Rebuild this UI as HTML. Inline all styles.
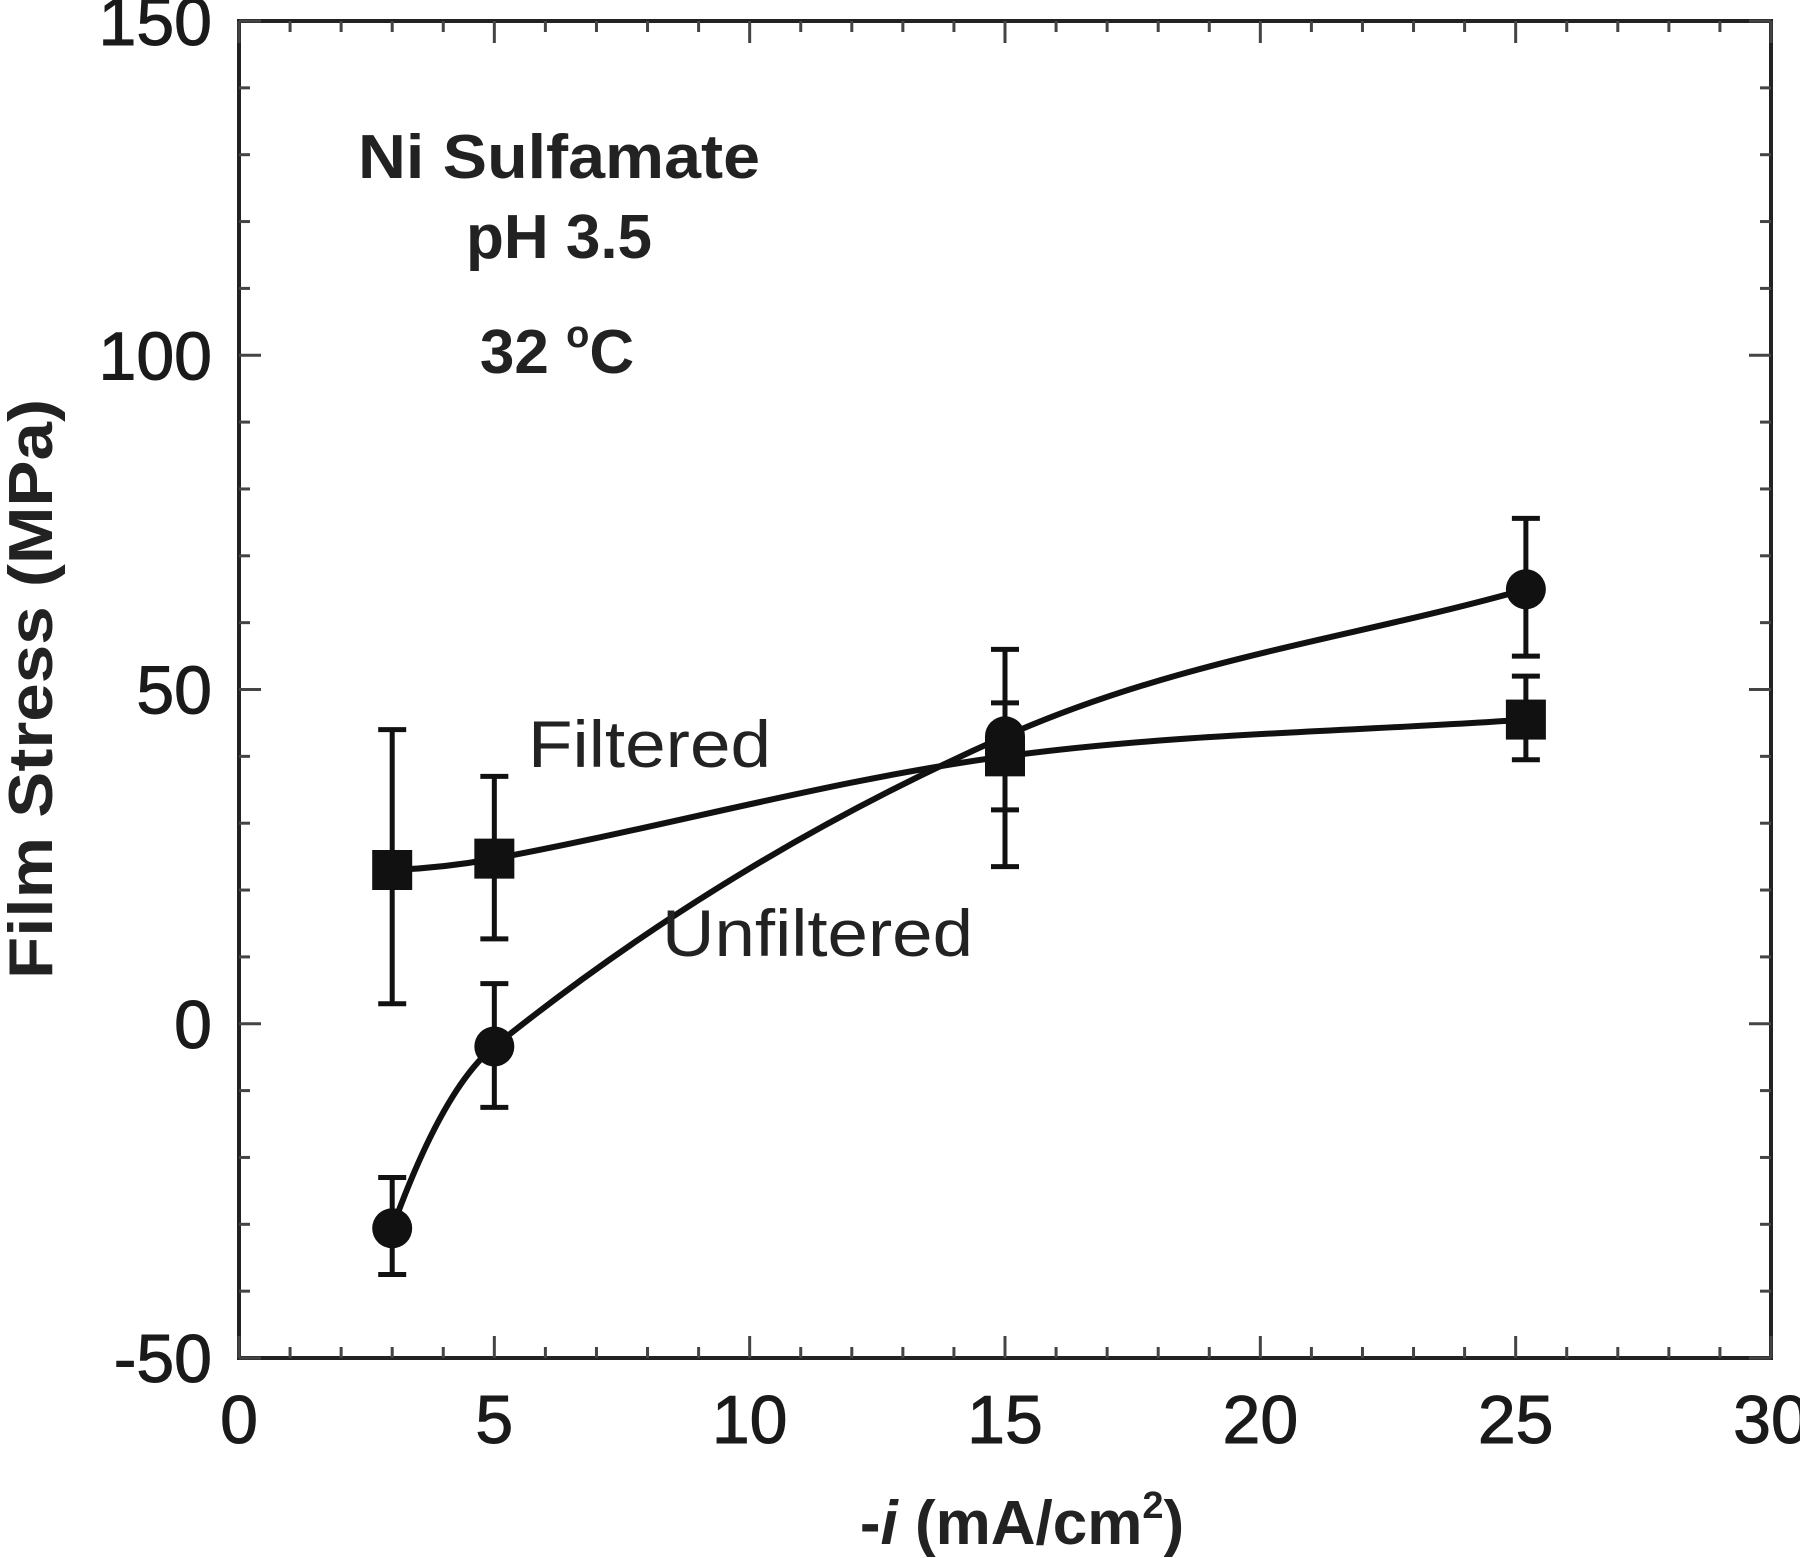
<!DOCTYPE html>
<html><head><meta charset="utf-8"><style>
html,body{margin:0;padding:0;background:#fff;}
svg{display:block;font-family:"Liberation Sans",Arial,sans-serif;}
</style></head><body>
<svg id="chart" width="1800" height="1558" viewBox="0 0 1800 1558">
<rect x="239" y="21" width="1532" height="1337" fill="none" stroke="#222" stroke-width="4"/>
<g id="ticks"></g>
<g id="labels"></g>
<g id="series"></g>
<text x="559" y="178" font-size="62" font-weight="bold" text-anchor="middle" fill="#222" textLength="402" lengthAdjust="spacingAndGlyphs">Ni Sulfamate</text>
<text x="559" y="258" font-size="62" font-weight="bold" text-anchor="middle" fill="#222">pH 3.5</text>
<text x="557" y="373" font-size="62" font-weight="bold" text-anchor="middle" fill="#222">32 <tspan font-size="38" dy="-26">o</tspan><tspan dy="26">C</tspan></text>
<text x="528" y="767" font-size="66" fill="#222" textLength="243" lengthAdjust="spacingAndGlyphs">Filtered</text>
<text x="662" y="956" font-size="66" fill="#222" textLength="311" lengthAdjust="spacingAndGlyphs">Unfiltered</text>
<text x="1022" y="1544" font-size="62" font-weight="bold" text-anchor="middle" fill="#222">-<tspan font-style="italic">i</tspan> (mA/cm<tspan font-size="38" dy="-26">2</tspan><tspan dy="26">)</tspan></text>
<text transform="translate(52,689) rotate(-90)" font-size="62" font-weight="bold" text-anchor="middle" fill="#222" textLength="580" lengthAdjust="spacingAndGlyphs">Film Stress  (MPa)</text>
</svg>
<script>
const xTicks=[0,5,10,15,20,25,30];
const yTicks=[-50,0,50,100,150];
const xVals=[3,5,15,25.2];
const filtered=[23,24.7,40,45.5];
const filteredHi=[44,37,48,52];
const filteredLo=[3,12.7,32,39.5];
const unfiltered=[-30.6,-3.4,43,65];
const unfilteredHi=[-23,6,56,75.6];
const unfilteredLo=[-37.5,-12.5,23.5,55];

const NS="http://www.w3.org/2000/svg";
const L=239,R=1771,T=21,B=1358;
const sx=v=>L+v/30*(R-L);
const sy=v=>B-(v+50)/200*(B-T);
function mk(tag,attrs,parent){const e=document.createElementNS(NS,tag);for(const k in attrs)e.setAttribute(k,attrs[k]);parent.appendChild(e);return e;}
const tg=document.getElementById('ticks'),lg=document.getElementById('labels'),sg=document.getElementById('series');
for(let v=0;v<=30;v+=1){const maj=v%5===0,len=maj?22:11,x=sx(v);
 let t=mk('line',{x1:x,x2:x,y1:B,y2:B-len,stroke:'#444','stroke-width':3},tg);
 
 
 t=mk('line',{x1:x,x2:x,y1:T,y2:T+len,stroke:'#444','stroke-width':3},tg);
 
 }
for(let v=-50;v<=150;v+=10){const maj=v%50===0,len=maj?22:11,y=sy(v);
 let t=mk('line',{x1:L,x2:L+len,y1:y,y2:y,stroke:'#444','stroke-width':3},tg);
 
 
 t=mk('line',{x1:R,x2:R-len,y1:y,y2:y,stroke:'#444','stroke-width':3},tg);
 
 }
xTicks.forEach(v=>{const t=mk('text',{x:sx(v),y:1443,'font-size':68,'text-anchor':'middle',fill:'#1a1a1a','stroke':'#1a1a1a','stroke-width':1},lg);t.textContent=v;
 
 });
yTicks.forEach(v=>{const t=mk('text',{x:212,y:sy(v)+24,'font-size':68,'text-anchor':'end',fill:'#1a1a1a','stroke':'#1a1a1a','stroke-width':1},lg);t.textContent=v;
 
 });
function curve(ys){
 const n=xVals.length,d=[],m=[];
 for(let i=0;i<n-1;i++)d.push((ys[i+1]-ys[i])/(xVals[i+1]-xVals[i]));
 for(let i=1;i<n-1;i++)m[i]=(ys[i+1]-ys[i-1])/(xVals[i+1]-xVals[i-1]);
 m[0]=2*d[0]-m[1];
 m[n-1]=d[n-2];
 let p=`M${sx(xVals[0])},${sy(ys[0])}`;
 for(let i=0;i<n-1;i++){const h=xVals[i+1]-xVals[i];
  p+=` C${sx(xVals[i]+h/3)},${sy(ys[i]+m[i]*h/3)} ${sx(xVals[i+1]-h/3)},${sy(ys[i+1]-m[i+1]*h/3)} ${sx(xVals[i+1])},${sy(ys[i+1])}`;}
 return p;}
function series(ys,hi,lo,shape,name){
 const g=mk('g',{},sg);
 
 
 const path=mk('path',{d:curve(ys),fill:'none',stroke:'#111','stroke-width':6},g);
 
 
 xVals.forEach((x,i)=>{const cx=sx(x);
  const e=mk('path',{d:`M${cx},${sy(hi[i])}V${sy(lo[i])}M${cx-14},${sy(hi[i])}h28M${cx-14},${sy(lo[i])}h28`,stroke:'#111','stroke-width':5,fill:'none'},g);
  
  
  let m;
  if(shape==='sq'){m=mk('rect',{x:cx-20,y:sy(ys[i])-20,width:40,height:40,fill:'#111'},g);}
  else{m=mk('circle',{cx:cx,cy:sy(ys[i]),r:20,fill:'#111'},g);}
  
  });}
series(filtered,filteredHi,filteredLo,'sq','filtered');
series(unfiltered,unfilteredHi,unfilteredLo,'ci','unfiltered');
</script>
</body></html>
